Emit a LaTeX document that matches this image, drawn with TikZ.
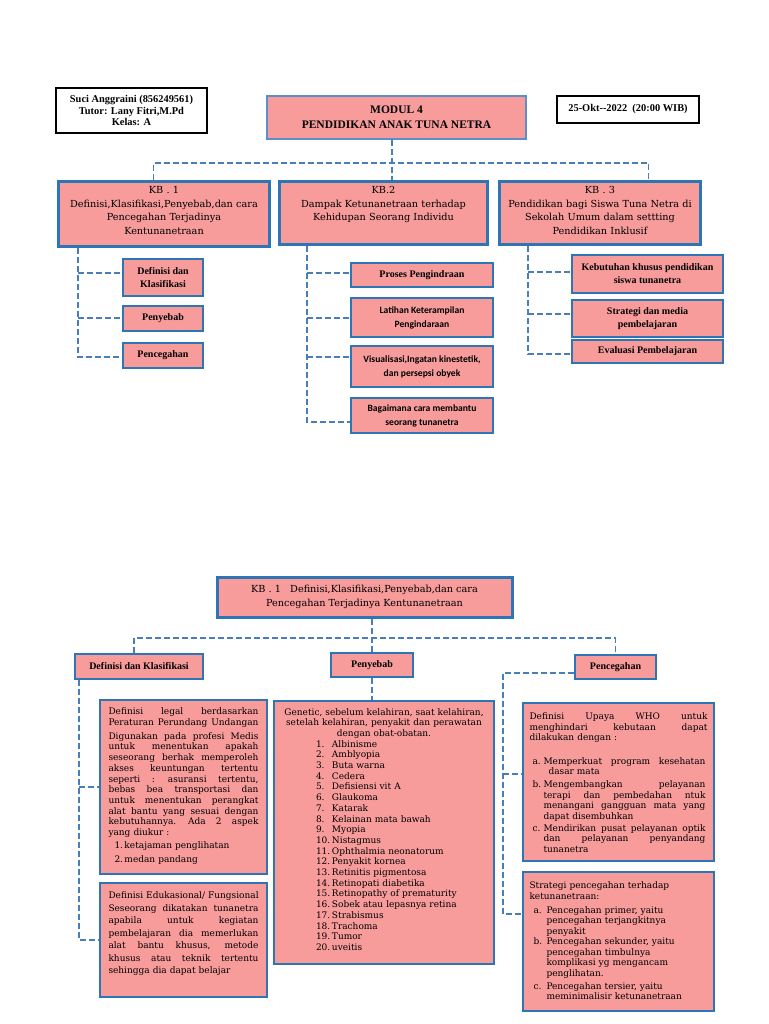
\documentclass[tikz,border=0pt]{standalone}
\usepackage{fontspec}
\setmainfont{DejaVu Serif}
\newfontfamily\hdfont{Liberation Serif}
\newfontfamily\cbfont{Carlito}
\definecolor{NetraPink}{HTML}{F79B9B}
\definecolor{NetraBlue}{HTML}{2E75B6}
\definecolor{NetraLight}{HTML}{5B8FCB}
\definecolor{NetraDash}{HTML}{4A7EBB}
% justified lines and list items
\newcommand\jl[2][150pt]{\leavevmode\hbox to #1{\spaceskip=.3333em plus 1fil\xspaceskip=.5em plus 1fil\relax #2}}
\newcommand\nitem[2]{\makebox[\hsize][l]{\hspace*{34pt}\makebox[16pt][l]{#1}#2}}
\newcommand\whoitem[2]{\hspace*{3pt}\makebox[11pt][l]{#1}\jl[162pt]{#2}}
\newcommand\wholine[1]{\hspace*{14pt}\jl[162pt]{#1}}
\newcommand\stitem[2]{\hspace*{4pt}\makebox[13pt][l]{#1}#2}

\tikzset{
  netbox/.style={draw=NetraBlue,fill=NetraPink,line width=2pt,inner sep=2pt,align=center},
  kbbox/.style={netbox,line width=3pt,font=\fontsize{9.7}{13.5}\selectfont},
  subbox/.style={netbox,font=\hdfont\bfseries\fontsize{10}{13}\selectfont},
  cbbox/.style={netbox,font=\cbfont\bfseries\fontsize{9.6}{14}\selectfont},
  infobox/.style={draw=black,line width=1.5pt,fill=white,align=center,font=\hdfont\bfseries\fontsize{10.4}{11.5}\selectfont},
  txtbox/.style={netbox,anchor=north west,align=left,inner ysep=4pt,font=\fontsize{9}{10.7}\selectfont},
  link/.style={NetraDash,line width=1.7pt,dash pattern=on 6pt off 3pt},
}

\begin{document}
\begin{tikzpicture}[x=1pt,y=-1pt]
  \fill[white] (0,0) rectangle (768,1024);
  \useasboundingbox (0,0) rectangle (768,1024);

  % top part
  \node[infobox,minimum width=151pt,minimum height=45pt] (info) at (131.5,110.5) {Suci Anggraini (856249561)\\Tutor: Lany Fitri,M.Pd\\Kelas: A};
  \node[netbox,draw=NetraLight,line width=1.8pt,minimum width=259pt,minimum height=43pt,font=\hdfont\bfseries\fontsize{11.5}{15}\selectfont] (modul) at (396.5,117.5) {MODUL 4\\PENDIDIKAN ANAK TUNA NETRA};
  \node[infobox,minimum width=142pt,minimum height=27pt] (tgl) at (628,109.5) {25-Okt-{}-2022\ \ (20:00 WIB)};

  \node[kbbox,anchor=north west,text width=205pt,inner xsep=3pt,inner ysep=3pt,text height=9.5pt,text depth=49.5pt] (kb1) at (57,180) {KB . 1\\Definisi,Klasifikasi,Penyebab,dan cara\\Pencegahan Terjadinya\\Kentunanetraan};
  \node[kbbox,anchor=north west,text width=202pt,inner xsep=3pt,inner ysep=3pt,text height=9.5pt,text depth=47.5pt] (kb2) at (278,180) {KB.2\\Dampak Ketunanetraan terhadap\\Kehidupan Seorang Individu};
  \node[kbbox,anchor=north west,text width=195pt,inner xsep=3pt,inner ysep=3pt,text height=9.5pt,text depth=47.5pt] (kb3) at (498,180) {KB . 3\\Pendidikan bagi Siswa Tuna Netra di\\Sekolah Umum dalam settting\\Pendidikan Inklusif};

  \coordinate (hub1) at (392,163);
  \draw[link] ([xshift=-10.5pt]kb1.north) |- (hub1) -| ([xshift=48.5pt]kb3.north);
  \draw[link] (modul.south -| hub1) -- (kb2.north -| hub1);

  % KB 1
  \node[subbox,minimum width=80pt,minimum height=37pt] (kdef) at (163,277.5) {Definisi dan\\Klasifikasi};
  \node[subbox,minimum width=80pt,minimum height=25pt] (kpeny) at (163,318.5) {Penyebab};
  \node[subbox,minimum width=80pt,minimum height=25pt] (kpenc) at (163,355.5) {Pencegahan};
  \coordinate (s1) at (78,0);
  \draw[link] (kb1.south -| s1) |- ([yshift=-1.5pt]kpenc.west);
  \draw[link] ([yshift=4.5pt]kdef.west -| s1) -- ([yshift=4.5pt]kdef.west);
  \draw[link] ([yshift=0.5pt]kpeny.west -| s1) -- ([yshift=0.5pt]kpeny.west);

  % KB 2
  \node[subbox,minimum width=142pt,minimum height=24pt] (proses) at (422,275) {Proses Pengindraan};
  \node[cbbox,minimum width=142pt,minimum height=39pt] (latihan) at (422,317.5) {Latihan Keterampilan\\Pengindaraan};
  \node[cbbox,minimum width=142pt,minimum height=41pt] (visual) at (422,366.5) {Visualisasi,Ingatan kinestetik,\\dan persepsi obyek};
  \node[cbbox,minimum width=142pt,minimum height=35pt] (bagai) at (422,415.5) {Bagaimana cara membantu\\seorang tunanetra};
  \coordinate (s2) at (307,0);
  \draw[link] (kb2.south -| s2) |- ([yshift=-6.5pt]bagai.west);
  \draw[link] ([yshift=2pt]proses.west -| s2) -- ([yshift=2pt]proses.west);
  \draw[link] ([yshift=-0.5pt]latihan.west -| s2) -- ([yshift=-0.5pt]latihan.west);
  \draw[link] ([yshift=9.5pt]visual.west -| s2) -- ([yshift=9.5pt]visual.west);

  % KB 3
  \node[subbox,minimum width=151pt,minimum height=38pt] (kebut) at (647.5,274) {Kebutuhan khusus pendidikan\\siswa tunanetra};
  \node[subbox,minimum width=151pt,minimum height=37pt] (strat) at (647.5,318.5) {Strategi dan media\\pembelajaran};
  \node[subbox,minimum width=151pt,minimum height=23pt] (evalu) at (647.5,351.5) {Evaluasi Pembelajaran};
  \coordinate (s3) at (528,0);
  \draw[link] (kb3.south -| s3) |- ([yshift=-2.5pt]evalu.west);
  \draw[link] ([yshift=2pt]kebut.west -| s3) -- ([yshift=2pt]kebut.west);
  \draw[link] ([yshift=4.5pt]strat.west -| s3) -- ([yshift=4.5pt]strat.west);

  % bottom part
  \node[kbbox,minimum width=295pt,minimum height=40pt,font=\fontsize{9.7}{14}\selectfont] (hdr) at (364.5,597) {KB . 1\ \ \ Definisi,Klasifikasi,Penyebab,dan cara\\Pencegahan Terjadinya Kentunanetraan};
  \node[subbox,minimum width=128pt,minimum height=25pt] (bdef) at (139,666.5) {Definisi dan Klasifikasi};
  \node[subbox,minimum width=82pt,minimum height=24pt] (bpeny) at (372,665) {Penyebab};
  \node[subbox,minimum width=81pt,minimum height=24pt] (bpenc) at (615.5,667) {Pencegahan};
  \coordinate (hub2) at (372,638);
  \draw[link] ([xshift=-5pt]bdef.north) |- (hub2) -| (bpenc.north);
  \draw[link] (hdr.south -| bpeny) -- (bpeny.north);

  \node[txtbox,text width=150pt,inner xsep=8.5pt,text height=10.5pt,text depth=155.5pt] (blegal) at (99,699) {%
    \jl{Definisi legal berdasarkan}\\
    \jl{Peraturan Perundang Undangan}\\[3.3pt]
    \jl{Digunakan pada profesi Medis}\\
    \jl{untuk menentukan apakah}\\
    \jl{seseorang berhak memperoleh}\\
    \jl{akses keuntungan tertentu}\\
    \jl{seperti : asuransi tertentu,}\\
    \jl{bebas bea transportasi dan}\\
    \jl{untuk menentukan perangkat}\\
    \jl{alat bantu yang sesuai dengan}\\
    \jl{kebutuhannya. Ada 2 aspek}\\
    yang diukur :\\[2.3pt]
    \hspace*{6pt}\makebox[10pt][l]{1.}ketajaman penglihatan\\[3.3pt]
    \hspace*{6pt}\makebox[10pt][l]{2.}medan pandang};
  \node[txtbox,text width=150pt,inner xsep=8.5pt,text height=11.5pt,text depth=94.5pt,font=\fontsize{9}{12.5}\selectfont] (bedu) at (99,882) {%
    \jl{Definisi Edukasional/ Fungsional}\\
    \jl{Seseorang dikatakan tunanetra}\\
    \jl{apabila untuk kegiatan}\\
    \jl{pembelajaran dia memerlukan}\\
    \jl{alat bantu khusus, metode}\\
    \jl{khusus atau teknik tertentu}\\
    sehingga dia dapat belajar};
  \coordinate (s4) at (79,0);
  \draw[link] (bdef.south -| s4) |- (bedu.west);
  \draw[link] (blegal.west -| s4) -- (blegal.west);

  \node[txtbox,text width=204pt,inner xsep=8pt,text height=10pt,text depth=245pt,align=center] (blist) at (273,700) {%
    Genetic, sebelum kelahiran, saat kelahiran,\\
    setelah kelahiran, penyakit dan perawatan\\
    dengan obat-obatan.\\
    \nitem{1.}{Albinisme}\\
    \nitem{2.}{Amblyopia}\\
    \nitem{3.}{Buta warna}\\
    \nitem{4.}{Cedera}\\
    \nitem{5.}{Defisiensi vit A}\\
    \nitem{6.}{Glaukoma}\\
    \nitem{7.}{Katarak}\\
    \nitem{8.}{Kelainan mata bawah}\\
    \nitem{9.}{Myopia}\\
    \nitem{10.}{Nistagmus}\\
    \nitem{11.}{Ophthalmia neonatorum}\\
    \nitem{12.}{Penyakit kornea}\\
    \nitem{13.}{Retinitis pigmentosa}\\
    \nitem{14.}{Retinopati diabetika}\\
    \nitem{15.}{Retinopathy of prematurity}\\
    \nitem{16.}{Sobek atau lepasnya retina}\\
    \nitem{17.}{Strabismus}\\
    \nitem{18.}{Trachoma}\\
    \nitem{19.}{Tumor}\\
    \nitem{20.}{uveitis}};
  \draw[link] (bpeny.south) -- (bpeny.south |- blist.north);

  \node[txtbox,text width=178pt,inner xsep=6.5pt,text height=12.5pt,text depth=137.5pt,font=\fontsize{9}{10.5}\selectfont] (bwho) at (522,702) {%
    \jl[178pt]{Definisi Upaya WHO untuk}\\
    \jl[178pt]{menghindari kebutaan dapat}\\
    dilakukan dengan :\\[13pt]
    \whoitem{a.}{Memperkuat program kesehatan}\\
    \hspace*{19pt}dasar mata\\[2.5pt]
    \whoitem{b.}{Mengembangkan pelayanan}\\
    \wholine{terapi dan pembedahan ntuk}\\
    \wholine{menangani gangguan mata yang}\\
    \hspace*{14pt}dapat disembuhkan\\[1.5pt]
    \whoitem{c.}{Mendirikan pusat pelayanan optik}\\
    \wholine{dan pelayanan penyandang}\\
    \hspace*{14pt}tunanetra};
  \node[txtbox,text width=178pt,inner xsep=6.5pt,text height=12.5pt,text depth=118.5pt,font=\fontsize{9}{10.5}\selectfont] (bstrat) at (522,871) {%
    Strategi pencegahan terhadap\\
    ketunanetraan:\\[3.5pt]
    \stitem{a.}{Pencegahan primer, yaitu}\\
    \hspace*{17pt}pencegahan terjangkitnya\\
    \hspace*{17pt}penyakit\\
    \stitem{b.}{Pencegahan sekunder, yaitu}\\
    \hspace*{17pt}pencegahan timbulnya\\
    \hspace*{17pt}komplikasi yg mengancam\\
    \hspace*{17pt}penglihatan.\\[2.5pt]
    \stitem{c.}{Pencegahan tersier, yaitu}\\
    \hspace*{17pt}meminimalisir ketunanetraan};
  \coordinate (s6) at (503,0);
  \draw[link] ([yshift=-6pt]bpenc.west) -| ([yshift=27.5pt]bstrat.west -| s6) -- ([yshift=27.5pt]bstrat.west);
  \draw[link] ([yshift=8pt]bwho.west -| s6) -- ([yshift=8pt]bwho.west);
\end{tikzpicture}
\end{document}
